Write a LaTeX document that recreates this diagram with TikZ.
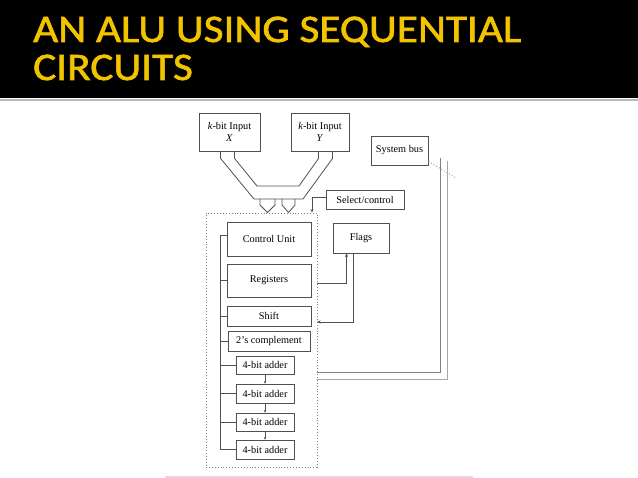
\documentclass[tikz,border=0pt]{standalone}
\usepackage{fontspec}
\setmainfont{Liberation Serif}
\newfontfamily\titlefont[FakeStretch=1.11,FakeBold=1.6]{Carlito}
\usetikzlibrary{arrows.meta,calc}
\definecolor{titleyellow}{RGB}{242,196,0}
\definecolor{linegray}{RGB}{80,80,80}
\definecolor{pinkline}{RGB}{238,205,238}
\begin{document}
\begin{tikzpicture}[x=1pt,y=-1pt,
  box/.style={draw=linegray, line width=0.9pt, inner sep=0pt, align=center,
    font=\fontsize{10.3}{12.5}\selectfont},
  wire/.style={draw=linegray, line width=0.8pt},
  arr/.style={wire,-{Stealth[length=3.5pt,width=3pt]}},
  titletext/.style={anchor=base west, inner sep=0pt, text=titleyellow,
    font=\titlefont\fontsize{39}{39}\selectfont},
  ]
\useasboundingbox (0,0) rectangle (638,478);
\fill[white] (0,0) rectangle (638,478);
\fill[black] (0,0) rectangle (638,98);
\draw[gray!55, line width=1.2pt] (0,100) -- (638,100);
\node[titletext] (t1) at (33,42) {AN ALU USING SEQUENTIAL};
\node[titletext] (t2) at (33,80) {CIRCUITS};

% boxes
\node[box, minimum width=61pt, minimum height=38pt] (X) at (229.5,132) {\textit{k}-bit Input\\\textit{X}};
\node[box, minimum width=58pt, minimum height=38pt] (Y) at (320,132) {\textit{k}-bit Input\\\textit{Y}};
\node[box, minimum width=57pt, minimum height=29pt] (Sys) at (399.5,150.5) {System bus};
\node[box, minimum width=78pt, minimum height=19pt] (Sel) at (365,199.5) {Select/control};
\node[box, minimum width=56pt, minimum height=30pt] (Flags) at (361,238) {Flags};
\node[draw=gray, dotted, line width=0.9pt, minimum width=111pt, minimum height=254pt, inner sep=0pt] (ALU) at (261.5,340) {};
\node[box, minimum width=84pt, minimum height=34pt] (CU) at (269,239) {Control Unit};
\node[box, minimum width=84pt, minimum height=33pt] (Reg) at (269,280.5) {Registers};
\node[box, minimum width=84pt, minimum height=20pt] (Shift) at (269,316) {Shift};
\node[box, minimum width=82pt, minimum height=20pt] (Comp) at (269,341) {2's complement};
\node[box, minimum width=58pt, minimum height=18pt] (A1) at (265,365) {4-bit adder};
\node[box, minimum width=58pt, minimum height=19pt] (A2) at (265,393.5) {4-bit adder};
\node[box, minimum width=58pt, minimum height=18pt] (A3) at (265,422) {4-bit adder};
\node[box, minimum width=58pt, minimum height=19pt] (A4) at (265,449.5) {4-bit adder};

% input pipes
\draw[wire] ($(X.south west)+(22,0)$) -- ++(0,7) -- (254,199) -- (303,199)
  -- ($(Y.south west)+(42,7)$) -- ($(Y.south west)+(42,0)$);
\draw[wire] ($(X.south west)+(36,0)$) -- ++(0,7) -- (257,186) -- (299,186)
  -- ($(Y.south west)+(28,7)$) -- ($(Y.south west)+(28,0)$);
\draw[wire] (260,199) -- (260,205) -- (267.5,212.5) -- (275,205) -- (275,199);
\draw[wire] (282,199) -- (282,205) -- (288.5,212.5) -- (295,205) -- (295,199);

% select/control
\coordinate (selout) at ($(Sel.west)+(0,-2)$);
\coordinate (selturn) at (312,197.5);
\draw[arr] (selout) -- (selturn) -- (selturn |- ALU.north);

% registers -> flags
\coordinate (regout) at (317,283);
\coordinate (flin) at ($(Flags.south west)+(14,0)$);
\draw[arr] (regout) -- (regout -| flin) -- (flin);

% flags -> shift
\coordinate (flout) at ($(Flags.south west)+(21,0)$);
\coordinate (shin) at (317,322);
\draw[arr] (flout) -- (flout |- shin) -- (shin);

% system bus
\coordinate (busA) at (440,158);
\coordinate (busB) at (447,161);
\coordinate (busAend) at (317,372);
\coordinate (busBend) at (317,379);
\draw[draw=gray, line width=0.9pt] (busA) -- (busA |- busAend) -- (busAend);
\draw[draw=gray!70, line width=0.9pt] (busB) -- (busB |- busBend) -- (busBend);
\coordinate (dotend) at (456,178);
\draw[gray!70, dotted, line width=1pt] ($(Sys.south east)+(0,-4)$) -- (dotend);

% internal left bus
\coordinate (lbtop) at (220,235);
\coordinate (lbbot) at (220,449.5);
\draw[wire] (lbtop) -- (lbbot);
\draw[wire] (lbtop) -- (lbtop -| CU.west);
\foreach \n in {Reg,Shift,Comp,A1,A2,A3,A4} {
  \draw[wire] (\n.west) -- (\n.west -| lbtop);
}

% carry chain
\draw[wire,-{Stealth[length=2.5pt,width=2.5pt]}] (A1.south) -- (A2.north);
\draw[wire,-{Stealth[length=2.5pt,width=2.5pt]}] (A2.south) -- (A3.north);
\draw[wire,-{Stealth[length=2.5pt,width=2.5pt]}] (A3.south) -- (A4.north);

% bottom pink rule
\draw[pinkline, line width=1.5pt] (165,477) -- (473,477);
\end{tikzpicture}
\end{document}
